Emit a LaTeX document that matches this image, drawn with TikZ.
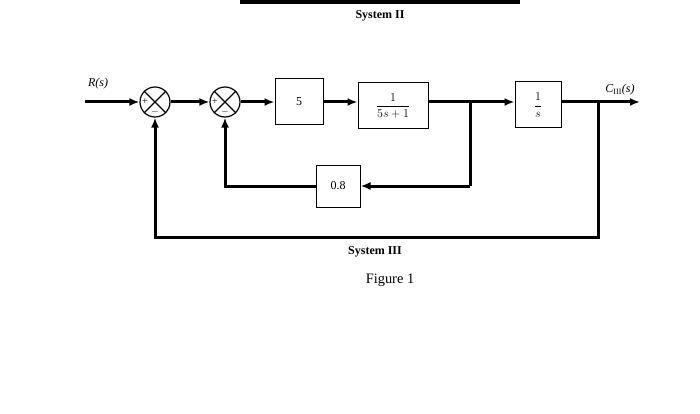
\documentclass[tikz,border=0pt]{standalone}
\usetikzlibrary{arrows.meta}
\usepackage{fontspec}
\setmainfont{Liberation Serif}
\begin{document}
\begin{tikzpicture}[x=1pt,y=-1pt,
 blk/.style={draw,line width=1pt,minimum width=#1,minimum height=46pt,inner sep=0pt,font=\large},
 sum/.style={draw,circle,line width=1.2pt,minimum size=30pt,inner sep=0pt},
 sig/.style={line width=3pt,-{Latex[length=10pt,width=8pt]}},
 wire/.style={line width=3pt}]
\useasboundingbox (0,0) rectangle (700,414);
\fill[black] (240,0) rectangle (520,4);
\node[font=\large\bfseries] (t2) at (380,16) {System II};
\node[sum] (s1) at (155,102) {};
\draw[line width=1.2pt] (s1.45)--(s1.225) (s1.135)--(s1.315);
\node[font=\normalsize] at (145,102) {+};\node[font=\normalsize] at (155,112) {$-$};
\node[sum] (s2) at (225,102) {};
\draw[line width=1.2pt] (s2.45)--(s2.225) (s2.135)--(s2.315);
\node[font=\normalsize] at (215,102) {+};\node[font=\normalsize] at (225,112) {$-$};
\node[blk=48pt] (g1) at (299,102) {5};
\node[blk=70pt] (g2) at (393,106) {$\displaystyle\frac{1}{5s+1}$};
\node[blk=46pt] (g3) at (538,105) {$\displaystyle\frac{1}{s}$};
\node[blk=44pt,minimum height=42pt] (h) at (338,186) {0.8};
\coordinate (in) at (85,102);
\coordinate (out) at (640,102);
\coordinate (b1) at (470,102);
\coordinate (b2) at (598,102);
\node[font=\large\itshape] (rl) at (98,84) {R(s)};
\node[font=\large\itshape] (cl) at (620,90) {C\textsubscript{\upshape III}(s)};
\draw[sig] (in)--(s1);
\draw[sig] (s1)--(s2);
\draw[sig] (s2)--(g1);
\draw[sig] (g1)--(g2.west|-g1);
\draw[sig] (g2.east|-b1)--(g3.west|-b1);
\draw[sig] (g3.east|-b2)--(out);
\draw[wire] (b1)--(b1|-h);
\draw[sig] (b1|-h)--(h);
\draw[sig] (h)-|(s2);
\draw[sig] (b2)--(598,237)-|(s1);
\node[font=\large\bfseries] (t3) at (375,252) {System III};
\node[font=\Large] (f1) at (390,280) {Figure 1};
\end{tikzpicture}
\end{document}
